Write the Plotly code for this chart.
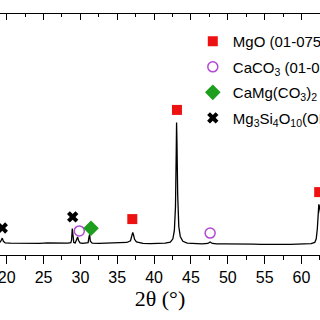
import plotly.graph_objects as go

# XRD pattern
two_theta = [19.1, 19.25, 19.4, 19.55, 19.8, 20.5, 21.5, 22.5, 23.5, 24.5, 25.5, 26.5, 27.5,
             28.3, 28.7, 28.8, 28.9, 29.0, 29.1, 29.3, 29.5, 29.62, 29.75, 29.95, 30.3, 30.8,
             31.05, 31.15, 31.25, 31.35, 31.6, 32.5, 33.5, 34.5, 35.5, 36.3, 36.8, 37.0, 37.1,
             37.2, 37.35, 37.6, 38.0, 38.5, 39.5, 40.5, 41.5, 42.2, 42.55, 42.75, 42.9, 43.0,
             43.05, 43.1, 43.2, 43.35, 43.55, 43.9, 44.5, 45.5, 46.5, 47.3, 47.6, 47.9, 48.5,
             49.5, 50.5, 51.5, 52.5, 53.5, 54.5, 55.5, 56.5, 57.5, 58.5, 59.5, 60.5, 61.3,
             61.8, 62.0, 62.15, 62.25, 62.35, 62.45, 62.6]
intensity = [5.2, 6.3, 7.0, 5.7, 5.0, 4.9, 4.8, 5.0, 4.9, 4.8, 5.0, 4.9, 4.8,
             4.9, 5.1, 6.2, 11.0, 6.7, 5.2, 5.0, 6.2, 7.5, 6.0, 5.0, 4.8, 4.8,
             5.1, 7.2, 8.6, 5.7, 4.9, 4.8, 4.9, 4.8, 4.9, 5.2, 5.9, 7.8, 9.4,
             8.4, 6.5, 5.4, 5.0, 4.8, 4.7, 4.8, 4.9, 5.3, 6.7, 10.2, 20.0, 42.0,
             55.0, 47.0, 25.0, 11.8, 7.7, 5.7, 4.9, 4.7, 4.6, 4.8, 5.4, 4.8, 4.6,
             4.6, 4.5, 4.6, 4.5, 4.5, 4.4, 4.5, 4.4, 4.4, 4.4, 4.5, 4.5, 4.7,
             5.2, 6.7, 11.0, 17.0, 21.0, 20.0, 17.0]

# phase markers
mgo_x = [37.04, 43.1, 62.4]
mgo_y = [14.9, 60.2, 26.1]
caco3_x = [29.85, 47.6]
caco3_y = [10.0, 9.1]
dol_x = [31.44]
dol_y = [11.1]
talc_x = [19.4, 28.95]
talc_y = [11.2, 15.8]

names = ["MgO (01-075-1525)", "CaCO<sub>3</sub> (01-086-2334)",
         "CaMg(CO<sub>3</sub>)<sub>2</sub> (01-075-1759)",
         "Mg<sub>3</sub>Si<sub>4</sub>O<sub>10</sub>(OH)<sub>2</sub>"]

fig = go.Figure()
fig.add_trace(go.Scatter(x=two_theta, y=intensity, mode="lines",
                         line=dict(color="black", width=1.3), showlegend=False))
fig.add_trace(go.Scatter(x=mgo_x, y=mgo_y, mode="markers", name=names[0], legendgroup="a",
                         marker=dict(symbol="square", size=10, color="#ee1111")))
fig.add_trace(go.Scatter(x=caco3_x, y=caco3_y, mode="markers", name=names[1], legendgroup="b",
                         marker=dict(symbol="circle-open", size=10, color="#b347d6",
                                     line=dict(width=1.5, color="#b347d6"))))
fig.add_trace(go.Scatter(x=dol_x, y=dol_y, mode="markers", name=names[2], legendgroup="c",
                         marker=dict(symbol="diamond", size=12, color="#1e9e1e")))
fig.add_trace(go.Scatter(x=talc_x, y=talc_y, mode="markers", name=names[3], legendgroup="d",
                         marker=dict(symbol="x", size=10, color="black")))
fig.add_trace(go.Scatter(x=[40], y=[-10], xaxis="x2", mode="markers",
                         showlegend=False, marker=dict(opacity=0)))

xr = [19.09, 62.51]
fig.update_layout(
    width=320, height=320,
    margin=dict(l=0, r=0, t=14, b=65, autoexpand=False),
    plot_bgcolor="white", paper_bgcolor="white",
    font=dict(family="Liberation Sans, Arial", size=16, color="black"),
    xaxis=dict(range=xr, tickmode="linear", tick0=20, dtick=5, ticks="outside",
               ticklen=8, tickwidth=1.2, tickcolor="black", showline=True,
               linecolor="black", linewidth=1.2, showgrid=False, zeroline=False,
               tickfont=dict(size=16), ticklabelstandoff=0, ticklabeloverflow="allow",
               minor=dict(dtick=2.5, tick0=20, ticks="outside", ticklen=4,
                          tickwidth=1.2, tickcolor="black"),
               title=dict(text="2θ (°)", font=dict(family="Liberation Serif, Times New Roman",
                                                    size=22), standoff=5)),
    xaxis2=dict(range=xr, overlaying="x", side="top", anchor="y", tickmode="linear",
                tick0=20, dtick=5, ticks="inside", ticklen=6, tickwidth=1.2,
                tickcolor="black", showticklabels=False, showline=True,
                linecolor="black", linewidth=1.2, showgrid=False, zeroline=False,
                minor=dict(dtick=2.5, tick0=20, ticks="inside", ticklen=3,
                           tickwidth=1.2, tickcolor="black")),
    yaxis=dict(range=[0, 100], visible=False),
    legend=dict(x=0.6025, y=0.954, xanchor="left", yanchor="top",
                bgcolor="rgba(0,0,0,0)", font=dict(size=15),
                traceorder="grouped", tracegroupgap=3),
)
fig.write_html("out.html")
